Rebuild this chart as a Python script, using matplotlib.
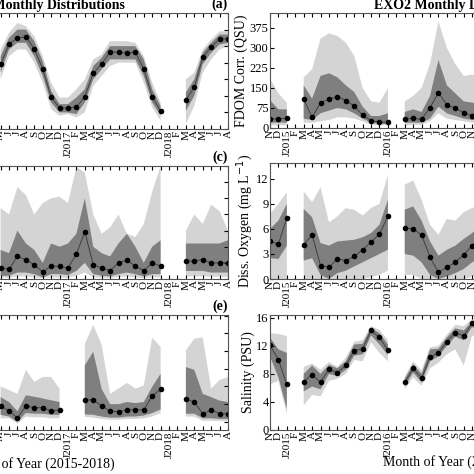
import numpy as np
import matplotlib
matplotlib.use("Agg")
import matplotlib.pyplot as plt

plt.rcParams['font.family'] = ['Liberation Serif', 'DejaVu Serif']
nan = np.nan

# month index 0 = Nov 2014 ... 45 = Aug 2018
letters = ['N', 'D', 'J', 'F', 'M', 'A', 'M', 'J', 'J', 'A', 'S', 'O']
tick_labels = []
for i in range(46):
    m = letters[i % 12]
    if m == 'J' and i % 12 == 2:
        m = 'J' + str(2015 + (i - 2) // 12)
    tick_labels.append(m)

# Left column: May 2016 (idx 18) .. Aug 2018 (idx 45)
a_med = [19.5,25.6,27.5,27.8,24.2,18.1,9.7,6.2,6.4,6.6,9.8,16.8,19.6,23.2,23.2,22.9,23.2,18.1,9.8,5.4,nan,nan,8.8,12.7,21.6,24.8,27.1,27.3]
a_dhi = [22,27.5,30,30,26.5,20.5,11.5,7.5,7.5,9.5,12,19,21.5,25,25,25,25,21,12,7,nan,nan,11,15,23,26,28.5,28.5]
a_dlo = [17,24,26,26,22,16,8,5,5,4.5,8,15,18,21,21,21,21,16,8,4,nan,nan,5.5,10,19.5,23,25.5,26]
a_lhi = [24,29,32,31,28,22,14,9.5,9.5,12,15,21,22.5,26.5,26.5,26.5,26,22,14,8,nan,nan,15,17,24,27,29.5,29.5]
a_llo = [15,22,24,24,20,14,6,4,4.5,3.5,5,13,16,19,20,20,20,14,6.5,2.5,nan,nan,1.5,7,17,21,24,25]

c_med = [3.5,3.0,7.0,6.0,4.4,2.2,4.0,3.9,3.4,7.8,14.6,4.4,3.4,2.6,5.0,5.8,4.0,2.6,5.0,4.0,nan,nan,5.5,5.6,6.0,5.0,5.0,5.0]
c_dhi = [9,8,15,11,9,5,11,10,11,14,25,10,8,7,11,14,10,5,10,12,nan,nan,11,11,11,11,11,12]
c_dlo = [1,1,2,2,1.5,0.5,1.5,1.5,1.2,2.5,5,1.5,1,0.8,1.5,2,1.5,0.8,1.5,1.5,nan,nan,2.5,2.5,2.5,2,2,2]
c_lhi = [22,20,28.5,26,20,23.5,25,25.5,23.5,34.7,33,20,14,16,20,14,13,17,27,35,nan,nan,15,20,17,23,21,15]
c_llo = [0.5,0.4,0.8,0.8,0.5,0.2,0.5,0.5,0.4,1,2,0.5,0.4,0.3,0.6,0.8,0.5,0.3,0.6,0.5,nan,nan,0.8,0.8,0.8,0.7,0.7,0.7]

e_med = [4.5,3.1,1.1,4.5,4.0,4.0,3.1,3.4,nan,nan,6.2,6.2,4.5,3.1,2.8,3.4,3.4,3.4,7.3,9.3,nan,nan,6.5,5.6,2.3,3.4,2.3,2.3]
e_dhi = [7,5.6,3.0,7.5,7.1,6.6,6.1,5.6,nan,nan,16,19.8,9.3,5,5,5.6,5.3,5.6,9.9,13.6,nan,nan,15.5,14.7,7.9,7,6,5.6]
e_dlo = [2,1.5,0,2.5,2.3,2.3,2,2,nan,nan,2.1,2,1.5,1.2,1.2,1.5,1.5,1.8,2.5,3.5,nan,nan,2.3,2.3,1,1,0.8,0.8]
e_lhi = [10,9,7.9,14.7,11.3,12.7,12.7,9.4,nan,nan,22,27.4,21.8,7.9,9.4,11,9.4,10.3,23.8,21.2,nan,nan,20.2,23.5,23.9,9.4,11.8,12.7]
e_llo = [1,1,-0.5,1.5,1.3,1.3,1,1,nan,nan,1.4,1.2,0.8,0.6,0.6,0.8,0.8,1,1.5,2.5,nan,nan,1.5,1.5,0.3,0.3,0.2,0.2]

# Right column: Nov 2014 (idx 0) .. Dec 2016 (idx 25)
f_med = [33,35,36,nan,108,40,95,108,118,103,82,48,28,22,22,nan,33,37,32,76,133,86,74,58,45,40]
f_dhi = [105,70,70,nan,160,110,195,205,190,160,135,80,45,45,55,nan,60,70,60,120,255,160,130,100,95,90]
f_dlo = [20,20,20,nan,35,30,55,65,75,70,55,35,20,15,15,nan,20,20,20,35,80,55,45,35,30,28]
f_lhi = [185,130,95,nan,190,220,335,355,345,320,270,150,100,95,150,nan,100,120,150,240,400,300,240,195,200,190]
f_llo = [10,10,10,nan,20,20,25,30,40,40,35,25,12,10,10,nan,10,12,12,25,55,35,30,25,20,18]

o_med = [4.5,4.2,7.3,nan,4.1,5.3,1.6,1.4,2.4,2.2,2.7,3.5,4.4,5.4,7.5,nan,6.1,6.0,5.3,2.6,0.8,1.4,2.0,2.9,4.0,5.0]
o_dhi = [6,7,9,nan,8.4,7.4,4.3,4.0,4.5,4.6,4.7,5.0,5.5,6.5,9.5,nan,8.3,8.7,7.0,4.5,2.8,3.5,4.0,4.8,5.5,6.5]
o_dlo = [2.5,2.4,4.0,nan,2.2,2.5,0.5,0,0.7,1.0,1.5,2.0,2.5,3.0,3.5,nan,3.0,2.8,2.0,0.5,0,0.3,0.7,1.2,2.0,2.5]
o_lhi = [7.8,9,10.4,nan,10.5,9.2,11,6.8,7.5,8.5,8.3,7.6,8.5,9,12.5,nan,11.3,11.8,9.5,6.5,5.3,7.2,7.0,8.0,8.5,9]
o_llo = [0,0,0,nan,0,0,0,0,0,0,0,0,0.2,0.5,1.0,nan,0.5,0.5,0,0,0,0,0,0,0.3,0.5]

s_med = [12.1,10.0,6.5,nan,6.9,7.9,6.8,8.7,8.2,9.2,11.3,11.6,14.2,13.2,11.4,nan,6.8,8.8,7.4,10.4,11.0,12.6,13.9,13.4,15.2,14.5]
s_dhi = [13.2,11.5,11,nan,8,9.2,8,9.3,8.8,9.8,12.2,12.3,14.6,13.8,12.2,nan,7.3,9.4,8.0,11.5,11.6,13.2,14.5,14.2,15.5,15]
s_dlo = [10.5,7.5,3.0,nan,5.5,6.2,5.8,8.0,7.7,8.6,10.6,10.8,13.5,12.2,10.7,nan,6.2,8.2,6.8,9.8,10.5,12.0,13.3,12.8,14.7,14]
s_lhi = [13.8,13.7,13.4,nan,9.0,9.5,8.6,9.7,9.0,10.3,12.6,12.8,14.8,14.3,12.8,nan,7.6,9.8,8.5,11.8,12.0,13.6,15.0,14.8,15.8,15.5]
s_llo = [6.5,7.0,2.3,nan,3.5,5.0,4.8,7.0,7.3,8.0,10.0,9.8,12.5,11.0,9.8,nan,5.8,7.5,6.3,8.8,9.6,10.8,11.5,9.2,13.5,13]

x_left = np.arange(18, 46)
x_right = np.arange(0, 26)

fig = plt.figure(figsize=(4.74, 4.74), dpi=100)
W = 379 / 474
lx = -151 / 474
rx = 270 / 474

def panel(pos, x, med, dhi, dlo, lhi, llo, ylim, yticks, ylabel, label=None):
    ax = fig.add_axes(pos)
    ax.fill_between(x, np.array(llo, float), np.array(lhi, float), color='#d4d4d4', lw=0)
    ax.fill_between(x, np.array(dlo, float), np.array(dhi, float), color='#7f7f7f', lw=0)
    ax.plot(x, med, '-', color='#404040', lw=0.7)
    ax.plot(x, med, 'o', color='black', ms=3)
    ax.set_xlim(0, 45)
    ax.set_ylim(*ylim)
    ax.set_yticks(yticks)
    ax.set_xticks(range(46))
    ax.set_xticklabels(tick_labels, rotation=90, fontsize=8)
    ax.tick_params(axis='y', labelsize=9)
    ax.tick_params(direction='in', top=True, right=True, length=3, pad=1)
    ax.set_ylabel(ylabel, fontsize=10, labelpad=1)
    for sp in ax.spines.values():
        sp.set_color('#555555')
    if label:
        ax.text(1.0, 1.02, label, transform=ax.transAxes, ha='right', va='bottom', fontsize=10, fontweight='bold')
    return ax

panel([lx, 1 - 129/474, W, 116/474], x_left, a_med, a_dhi, a_dlo, a_lhi, a_llo, (0, 35), range(0, 36, 5), 'Temperature (°C)', '(a)')
panel([lx, 1 - 279/474, W, 113/474], x_left, c_med, c_dhi, c_dlo, c_lhi, c_llo, (0, 35), range(0, 36, 5), 'Turbidity (FNU)', '(c)')
panel([lx, 1 - 430/474, W, 115/474], x_left, e_med, e_dhi, e_dlo, e_lhi, e_llo, (-2.3, 30.2), range(0, 31, 5), 'Chlorophyll (RFU)', '(e)')

panel([rx, 1 - 128/474, W, 115/474], x_right, f_med, f_dhi, f_dlo, f_lhi, f_llo, (0, 431), [0, 75, 150, 225, 300, 375], 'FDOM Corr. (QSU)', '(b)')
panel([rx, 1 - 279/474, W, 116/474], x_right, o_med, o_dhi, o_dlo, o_lhi, o_llo, (0, 13.9), [0, 3, 6, 9, 12], 'Diss. Oxygen (mg L$^{-1}$)', '(d)')
panel([rx, 1 - 430/474, W, 115/474], x_right, s_med, s_dhi, s_dlo, s_lhi, s_llo, (0, 16.4), [0, 4, 8, 12, 16], 'Salinity (PSU)', '(f)')

fig.text(38/474, 0.988, 'EXO2 Monthly Distributions', ha='center', va='center', fontsize=10, fontweight='bold')
fig.text(460/474, 0.988, 'EXO2 Monthly Distributions', ha='center', va='center', fontsize=10, fontweight='bold')
fig.text(38/474, 1 - 464/474, 'Month of Year (2015-2018)', ha='center', va='center', fontsize=10)
fig.text(460/474, 1 - 462/474, 'Month of Year (2015-2018)', ha='center', va='center', fontsize=10)

fig.savefig('out.png', dpi=100)
